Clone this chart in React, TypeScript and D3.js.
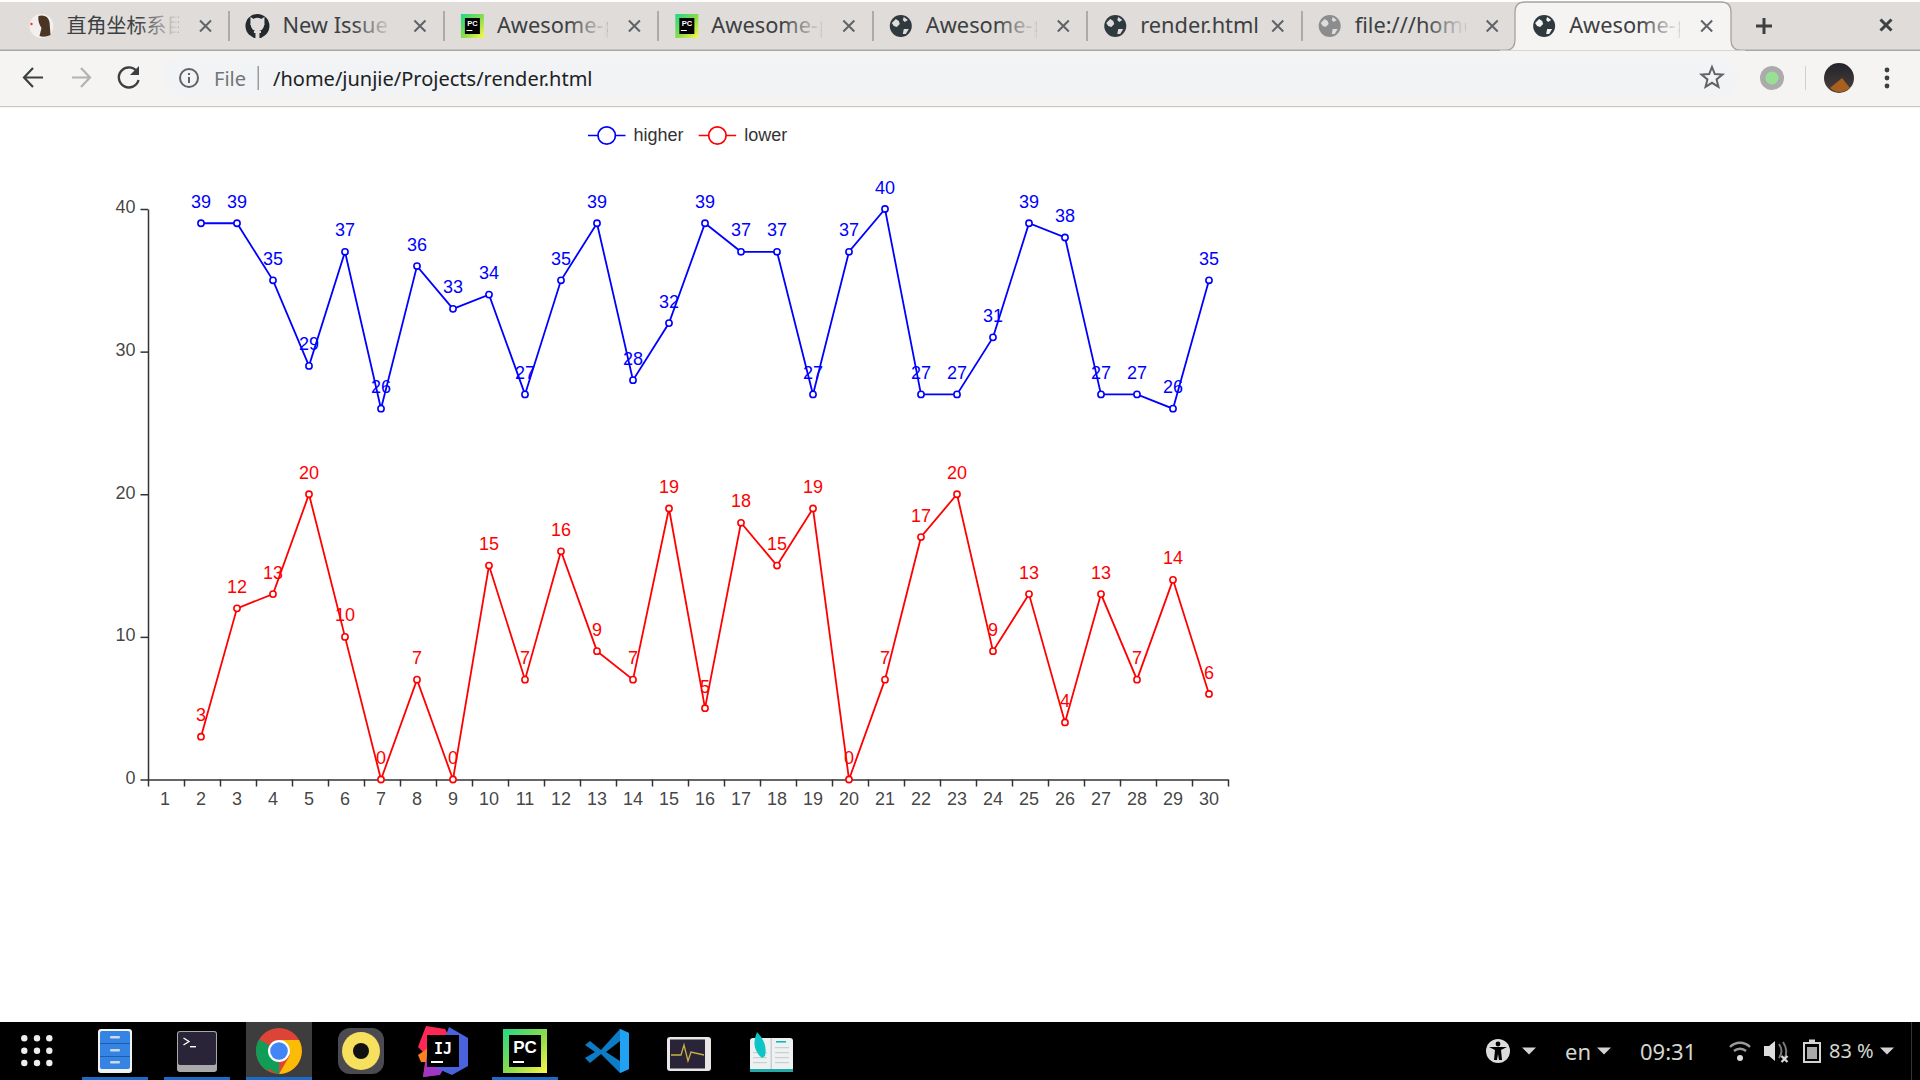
import React, { useEffect, useRef } from 'react';
import * as d3 from 'd3';

const categories = d3.range(1, 31).map(String);
// first category has no value in either series
const higher: (number | null)[] = [null, 39, 39, 35, 29, 37, 26, 36, 33, 34, 27, 35, 39, 28, 32, 39, 37, 37, 27, 37, 40, 27, 27, 31, 39, 38, 27, 27, 26, 35];
const lower: (number | null)[] = [null, 3, 12, 13, 20, 10, 0, 7, 0, 15, 7, 16, 9, 7, 19, 5, 18, 15, 19, 0, 7, 17, 20, 9, 13, 4, 13, 7, 14, 6];
const yTicks = [0, 10, 20, 30, 40];
const legendNames = ['higher', 'lower'];
const seriesColors = ['#0000ff', '#ff0000'];

const tabTitles = ['直角坐标系目', 'New Issue ·', 'Awesome-p', 'Awesome-p', 'Awesome-p', 'render.html', 'file:///home', 'Awesome-p'];
const tabIcons = ['face', 'github', 'pc', 'pc', 'globe', 'globe', 'globeGrey', 'globe'];
const urlText = '/home/junjie/Projects/render.html';

const UI_FONT = '"Noto Sans", sans-serif';
const CHART_FONT = '"Liberation Sans", Arial, sans-serif';
const STRIP = '#dfdcd9';
const BAR = '#f5f4f2';
const INK = '#3c4043';

const Globe = ({ x, y, c, land }: { x: number; y: number; c: string; land: string }) => (
  <g transform={`translate(${x},${y})`}>
    <circle r={11} fill={c} />
    <path d="M-9,-3 L-5,-7 L-2,-5 L-1,-2 L-4,1 L-7,0 Z M3,-9 L7,-6 L4,-4 L2,-6 Z M3,3 L8,3 L5,8 L2,8 Z" fill={land} />
  </g>
);

const Github = ({ x, y }: { x: number; y: number }) => (
  <g transform={`translate(${x},${y})`}>
    <circle r={12} fill="#24292e" />
    <circle cy={-1.5} r={6.8} fill="#dfdcd9" />
    <path d="M-7,-9 L-2,-6 L2,-6 L7,-9 L7,-1 L-7,-1 Z" fill="#dfdcd9" />
    <rect x={-3.5} y={5} width={7} height={8} fill="#dfdcd9" />
    <path d="M-3,12 L-3,7 M3,12 L3,7" stroke="#24292e" strokeWidth={2} />
  </g>
);

const PcFavicon = ({ x, y }: { x: number; y: number }) => (
  <g transform={`translate(${x},${y})`}>
    <rect x={-11} y={-12} width={23} height={24} fill="url(#pcGrad)" />
    <rect x={-7} y={-8} width={15} height={16} fill="#000" />
    <text x={0.5} y={-0.5} fontSize={7.5} fontWeight="bold" fill="#fff" textAnchor="middle" fontFamily={CHART_FONT}>PC</text>
    <rect x={-5.5} y={4} width={6} height={1} fill="#fff" />
  </g>
);

const FaceFavicon = ({ x, y }: { x: number; y: number }) => (
  <g transform={`translate(${x},${y})`}>
    <circle r={12} fill="#f3efec" />
    <path d="M-3,-10 Q6,-12 8,-4 L9,9 Q3,12 -2,10 L0,2 Q-4,-4 -3,-10 Z" fill="#4a3423" />
    <circle cx={-10} cy={-2} r={1.2} fill="#e23b3b" />
  </g>
);

const Close = ({ x, y, c = '#5f6368', s = 5.5, w = 2 }: { x: number; y: number; c?: string; s?: number; w?: number }) => (
  <path d={`M${x - s},${y - s} L${x + s},${y + s} M${x + s},${y - s} L${x - s},${y + s}`} stroke={c} strokeWidth={w} fill="none" />
);

const Caret = ({ x, y }: { x: number; y: number }) => <path d={`M${x - 7},${y - 3.5} L${x + 7},${y - 3.5} L${x},${y + 3.5} Z`} fill="#d3d3d3" />;

const TabStrip = () => (
  <g>
    <rect width={1920} height={50} fill={STRIP} />
    <rect width={1920} height={2} fill="#ffffff" />
    <rect y={49.5} width={1920} height={1.5} fill="#a9a7a4" />
    {[229, 444, 658, 873, 1087, 1302].map((x) => (
      <rect key={x} x={x - 0.75} y={11} width={1.5} height={30} fill="#9d9b98" />
    ))}
    <path d="M1505,51 Q1515,50 1515,40 L1515,12 Q1515,2 1525,2 L1721,2 Q1731,2 1731,12 L1731,40 Q1731,50 1741,51 Z" fill={BAR} stroke="#a5a3a0" strokeWidth={1.3} />
    <rect x={1500} y={50.5} width={245} height={3} fill={BAR} />
    {tabTitles.map((title, i) => {
      const isCjk = tabIcons[i] === 'face';
      const left = (isCjk ? 66.5 : 68) + i * 214.45;
      const closeX = 205.5 + i * 214.45;
      const iconX = (isCjk ? 41.5 : 43) + i * 214.45;
      const active = i === tabTitles.length - 1;
      const kind = tabIcons[i];
      const showFade = title !== 'render.html';
      return (
        <g key={i}>
          {kind === 'face' && <FaceFavicon x={iconX} y={26} />}
          {kind === 'github' && <Github x={iconX} y={26} />}
          {kind === 'pc' && <PcFavicon x={iconX} y={26} />}
          {kind === 'globe' && <Globe x={iconX} y={26} c="#2f3a3f" land={active ? BAR : STRIP} />}
          {kind === 'globeGrey' && <Globe x={iconX} y={26} c="#8a8c8e" land={STRIP} />}
          <text x={left} y={33} fontSize={isCjk ? 20 : 21.8} fontFamily={isCjk ? '"Noto Sans CJK SC", sans-serif' : UI_FONT} fill={INK}>
            {title}
          </text>
          {showFade && <rect x={closeX - 67} y={8} width={40} height={36} fill={`url(#${active ? 'fadeActive' : 'fadeTab'})`} />}
          {showFade && <rect x={closeX - 27} y={8} width={14} height={36} fill={active ? BAR : STRIP} />}
          <Close x={closeX} y={26} />
        </g>
      );
    })}
    <path d="M1756,26 L1772,26 M1764,18 L1764,34" stroke="#3c4043" strokeWidth={3} />
    <Close x={1886} y={25} c="#3c4043" s={5.5} w={3} />
  </g>
);

const Toolbar = () => (
  <g>
    <rect y={51} width={1920} height={55} fill={BAR} />
    <rect y={106} width={1920} height={1.2} fill="#c8c7c5" />
    <path d="M43,77.5 L24,77.5 M33,68 L24,77.5 L33,87" stroke="#3c4043" strokeWidth={2.2} fill="none" />
    <path d="M72,77.5 L90,77.5 M81,68 L90,77.5 L81,87" stroke="#b0b2b4" strokeWidth={2.2} fill="none" />
    <path d="M136.5,71 A10,10 0 1 0 138.5,80" stroke="#3c4043" strokeWidth={2.4} fill="none" />
    <path d="M139,66 L139,75 L130,75 Z" fill="#3c4043" />
    <rect x={162} y={57} width={1576} height={41} rx={20.5} fill="#f1f3f4" />
    <circle cx={189} cy={78} r={9} fill="none" stroke="#5f6368" strokeWidth={2} />
    <rect x={188} y={77} width={2} height={6} fill="#5f6368" />
    <rect x={188} y={73} width={2} height={2} fill="#5f6368" />
    <text x={214} y={86} fontSize={20} fontFamily={UI_FONT} fill="#70757a">File</text>
    <rect x={257.5} y={66} width={1.5} height={24} fill="#9a9c9e" />
    <text x={273} y={86} fontSize={20} fontFamily={UI_FONT} fill="#202124">{urlText}</text>
    <path d={d3.line()(d3.range(10).map((i) => {
      const r = i % 2 === 0 ? 11 : 4.8;
      const a = -Math.PI / 2 + (i * Math.PI) / 5;
      return [1712 + r * Math.cos(a), 78 + r * Math.sin(a)] as [number, number];
    })) + 'Z'} fill="none" stroke="#5f6368" strokeWidth={2} />
    <circle cx={1772} cy={78} r={12} fill="#ababab" />
    <circle cx={1772} cy={78} r={6.5} fill="#98e095" />
    <rect x={1805} y={66} width={1} height={24} fill="#cfcfcd" />
    <circle cx={1839} cy={78} r={15} fill="url(#avatarGrad)" />
    <path d="M1830,88 L1842,78 L1850,88 Q1839,96 1830,88 Z" fill="#a85f1f" />
    {[70, 78, 86].map((y) => <circle key={y} cx={1887} cy={y} r={2.4} fill="#3c4043" />)}
  </g>
);

const Dock = () => (
  <g>
    <rect y={1022} width={1920} height={58} fill="#000" />
    <rect x={246} y={1022} width={66} height={58} fill="#3d3d3d" />
    {[82, 164, 246, 492].map((x) => <rect key={x} x={x} y={1077} width={66} height={3} fill="#1c6bc9" />)}
    {[24.3, 37, 49.3].flatMap((x) => [1038.3, 1050.7, 1063].map((y) => <circle key={`${x}${y}`} cx={x} cy={y} r={3.2} fill="#eeeeee" />))}

    <rect x={98} y={1029} width={34} height={44} rx={3} fill="#f2f2f2" />
    <rect x={100} y={1031} width={30} height={38} rx={2} fill="#3584e4" />
    {[1043, 1056].map((y) => <rect key={y} x={100} y={y} width={30} height={1} fill="#1c5fb0" />)}
    {[1036, 1049, 1061].map((y) => <rect key={y} x={110} y={y} width={10} height={2.5} rx={1} fill="#cfd8e3" />)}

    <rect x={177} y={1031} width={40} height={41} rx={3} fill="#a9a9a9" />
    <rect x={178} y={1032} width={38} height={33} rx={2} fill="#2a2438" />
    <path d="M183.5,1038 L189,1041.5 L183.5,1045" stroke="#fff" strokeWidth={1.3} fill="none" />
    <rect x={190} y={1046} width={6} height={1.4} fill="#fff" />

    <circle cx={279} cy={1051} r={23} fill="#db4437" />
    <path d="M279,1051 L259,1039.5 A23,23 0 0 0 268,1071 Z" fill="#0f9d58" />
    <path d="M279,1051 L259,1040 L259,1062 L277,1074 A23,23 0 0 0 279,1074 Z" fill="#0f9d58" />
    <path d="M279,1051 L279,1028 L279,1040 L299,1040 A23,23 0 0 1 279,1074 L290,1055 Z" fill="#fbbc05" />
    <circle cx={279} cy={1051} r={11} fill="#fff" />
    <circle cx={279} cy={1051} r={8.8} fill="#4285f4" />

    <rect x={338} y={1028} width={46} height={46} rx={12} fill="#4a4a50" />
    <circle cx={361} cy={1051} r={19} fill="#f6e05e" />
    <circle cx={361} cy={1051} r={8} fill="#111" />

    <path d="M426,1026 L445,1029 L452,1042 L437,1075 L423,1077 L426,1055 L418,1047 Z" fill="#fe2857" />
    <path d="M418,1055 L428,1048 L428,1062 L421,1062 Z" fill="#fc801d" />
    <path d="M423,1077 L428,1050 L450,1058 L440,1075 Z" fill="#9d37c4" />
    <path d="M449,1027 L468,1038 L468,1066 L452,1075 L436,1068 L444,1040 Z" fill="#4a63dc" />
    <rect x={427} y={1035} width={32} height={32} fill="#000" />
    <text x={443} y={1054} fontSize={15} fontWeight="bold" fill="#fff" textAnchor="middle" fontFamily={'"DejaVu Sans Mono", monospace'}>IJ</text>
    <rect x={431} y={1061} width={12} height={2} fill="#fff" />

    <rect x={503} y={1029} width={44} height={44} fill="url(#pcGrad)" />
    <rect x={509} y={1035} width={32} height={32} fill="#000" />
    <text x={525} y={1053} fontSize={17} fontWeight="bold" fill="#fff" textAnchor="middle" fontFamily={CHART_FONT}>PC</text>
    <rect x={513} y={1061} width={11} height={2} fill="#fff" />

    <path d="M585,1045 L590,1041 L601,1050 L620,1029 L629,1033 L629,1069 L620,1073 L601,1054 L590,1063 L585,1058 L595,1052 Z" fill="#0e7cc5" />
    <path d="M620,1029 L629,1033 L629,1069 L620,1073 Z" fill="#21a1f1" />
    <path d="M620,1041 L620,1061 L606,1052 Z" fill="#000" />

    <rect x={667} y={1037} width={44} height={34} rx={3} fill="#e9e7e6" />
    <rect x={670} y={1039.5} width={35} height={29} fill="#2a2438" />
    <path d="M671,1055 L681,1055 L684,1045 L688,1061 L691,1052 L704,1055" stroke="#c7b344" strokeWidth={1.3} fill="none" />

    <rect x={750} y={1038} width={43} height={33} rx={3} fill="#eef1f1" />
    <rect x={770.5} y={1038} width={1.5} height={33} fill="#c9cfcf" />
    <rect x={750} y={1069} width={43} height={3} fill="#23a9a7" />
    {[1052, 1057, 1062].map((y) => <rect key={y} x={753} y={y} width={14} height={1.2} fill="#c9cfcf" />)}
    <path d="M757,1032 Q768,1043 765,1056 L762,1058 Q750,1048 757,1032 Z" fill="#0cc6c6" />
    <rect x={776} y={1041} width={10} height={1.6} fill="#13b8b8" />
    {[1047, 1052, 1057, 1062].map((y) => <rect key={y} x={775} y={y} width={14} height={1.2} fill="#c9cfcf" />)}

    <circle cx={1498} cy={1051} r={12} fill="#dcdcdc" />
    <circle cx={1498} cy={1044} r={2.4} fill="#000" />
    <path d="M1489,1047 L1507,1047 L1501,1050 L1502,1060 L1499,1060 L1498,1054 L1497,1060 L1494,1060 L1495,1050 Z" fill="#000" />
    <Caret x={1529} y={1051} />
    <text x={1565} y={1060} fontSize={22} fontFamily={UI_FONT} fill="#d3d7cf">en</text>
    <Caret x={1604} y={1051} />
    <text x={1640} y={1060} fontSize={22} fontFamily={UI_FONT} fill="#d3d7cf">09:31</text>
    <path d="M1730,1047 A14,14 0 0 1 1750,1047 M1734,1051 A9,9 0 0 1 1746,1051" stroke="#9a9a9a" strokeWidth={2.4} fill="none" />
    <circle cx={1740} cy={1058} r={3} fill="#dcdcdc" />
    <path d="M1764,1046 L1769,1046 L1775,1041 L1775,1061 L1769,1056 L1764,1056 Z" fill="#dcdcdc" />
    <path d="M1779,1044 Q1784,1051 1779,1058 M1783,1042 Q1789,1051 1784,1060" stroke="#7a7a7a" strokeWidth={2} fill="none" />
    <Close x={1784.5} y={1059} c="#dcdcdc" s={3} w={2.2} />
    <rect x={1804} y={1043} width={16} height={19} fill="none" stroke="#d3d3d3" strokeWidth={2} />
    <rect x={1809} y={1039.5} width={6} height={3} fill="#d3d3d3" />
    <rect x={1807} y={1047} width={10} height={12} fill="#a9a9a9" />
    <text x={1829} y={1058} fontSize={20} fontFamily={UI_FONT} fill="#d3d7cf">83 %</text>
    <Caret x={1887} y={1051} />
    <rect x={1911} y={1022} width={1} height={58} fill="#333" />
  </g>
);

const Chart = () => {
  const ref = useRef<SVGGElement>(null);

  useEffect(() => {
    if (!ref.current) return;
    const root = d3.select(ref.current);
    root.selectAll('*').remove();

    const x0 = 148;
    const x1 = 1228;
    const yBottom = 779.5;
    const yTop = 209;

    const x = d3.scaleBand<string>().domain(categories).range([x0, x1]);
    const edges = d3.scaleLinear().domain([0, categories.length]).range([x0, x1]);
    const y = d3.scaleLinear().domain([0, 40]).range([yBottom, yTop]);
    const markX = (i: number) => (x(categories[i]) as number) + x.bandwidth() / 2 - 1;

    // axis line and ticks sit on the band edges, the labels in the band centres
    const edgeAxis = root.append('g').attr('transform', `translate(0,${yBottom})`)
      .call(d3.axisBottom(edges).tickValues(d3.range(categories.length + 1)).tickSize(7).tickSizeOuter(0).tickFormat(() => ''));
    const labelAxis = root.append('g').attr('transform', `translate(-1,${yBottom})`)
      .call(d3.axisBottom(x).tickSize(0).tickPadding(13.2));
    labelAxis.select('.domain').remove();
    const yAxis = root.append('g').attr('transform', `translate(${x0},0)`)
      .call(d3.axisLeft(y).tickValues(yTicks).tickSize(7.5).tickPadding(5).tickSizeOuter(0).tickFormat(d3.format('d')));
    yAxis.selectAll('text').attr('dy', '.22em');

    [edgeAxis, labelAxis, yAxis].forEach((axis) => {
      axis.attr('font-size', 18).attr('font-family', CHART_FONT);
      axis.selectAll('text').attr('fill', '#333').attr('fill-opacity', 0.92);
      axis.selectAll('line, path').attr('stroke', '#333').attr('stroke-width', 1.5);
    });

    const line = d3.line<number | null>()
      .defined((d) => d !== null)
      .x((_, i) => markX(i))
      .y((d) => y(d as number));

    [higher, lower].forEach((values, s) => {
      const color = seriesColors[s];
      const g = root.append('g');
      g.append('path').attr('d', line(values)).attr('fill', 'none').attr('stroke', color).attr('stroke-width', 1.8);

      const points = values.map((v, i) => ({ v, i })).filter((d) => d.v !== null);
      g.selectAll('circle').data(points).enter().append('circle')
        .attr('cx', (d) => markX(d.i))
        .attr('cy', (d) => y(d.v as number))
        .attr('r', 3.1)
        .attr('fill', '#fff')
        .attr('stroke', color)
        .attr('stroke-width', 1.6);
      g.selectAll('text').data(points).enter().append('text')
        .attr('x', (d) => markX(d.i))
        .attr('y', (d) => y(d.v as number) - 15.4)
        .attr('text-anchor', 'middle')
        .attr('font-size', 18)
        .attr('font-family', CHART_FONT)
        .attr('fill', color)
        .text((d) => String(d.v));
    });

    // legend
    const legendX = [588, 698.7];
    legendNames.forEach((name, i) => {
      const color = seriesColors[i];
      const g = root.append('g').attr('transform', `translate(${legendX[i]},135.5)`);
      g.append('line').attr('x1', 0).attr('x2', 37.5).attr('stroke', color).attr('stroke-width', 1.7);
      g.append('circle').attr('cx', 18.7).attr('r', 8.7).attr('fill', '#fff').attr('stroke', color).attr('stroke-width', 1.7);
      g.append('text').attr('x', 45.5).attr('y', 5).attr('font-size', 18).attr('font-family', CHART_FONT).attr('fill', '#333').text(name);
    });
  }, []);

  return <g ref={ref} />;
};

const App: React.FC = () => (
  <svg width={1920} height={1080} viewBox="0 0 1920 1080" style={{ position: 'fixed', left: 0, top: 0, background: '#fff' }}>
    <defs>
      <linearGradient id="fadeTab">
        <stop offset="0" stopColor={STRIP} stopOpacity={0} />
        <stop offset="1" stopColor={STRIP} />
      </linearGradient>
      <linearGradient id="fadeActive">
        <stop offset="0" stopColor={BAR} stopOpacity={0} />
        <stop offset="1" stopColor={BAR} />
      </linearGradient>
      <linearGradient id="pcGrad" x1="0" y1="0" x2="1" y2="1">
        <stop offset="0" stopColor="#21d789" />
        <stop offset="0.55" stopColor="#8fdc4a" />
        <stop offset="1" stopColor="#fcf84a" />
      </linearGradient>
      <linearGradient id="avatarGrad" x1="0" y1="0" x2="0" y2="1">
        <stop offset="0" stopColor="#23242c" />
        <stop offset="1" stopColor="#4a3f3c" />
      </linearGradient>
    </defs>
    <TabStrip />
    <Toolbar />
    <Chart />
    <Dock />
  </svg>
);

export default App;
